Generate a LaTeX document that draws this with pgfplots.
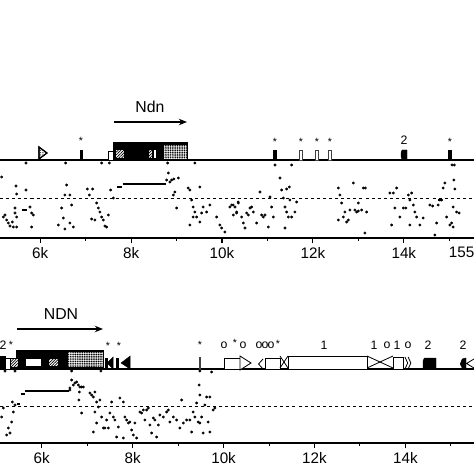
\documentclass[border=0pt]{standalone}
\usepackage{fontspec}
\setmainfont{Liberation Sans}
\usepackage{pgfplots}
\pgfplotsset{compat=1.18}
\usetikzlibrary{patterns,patterns.meta,arrows.meta}

\newcommand{\gbox}[5][]{\addplot[#1] coordinates {(#2,#3) (#4,#3) (#4,#5) (#2,#5)} -- cycle;}

\pgfplotsset{
  panel/.style={scale only axis, width=14.22cm,
    axis x line=bottom, axis y line=none,
    axis line style={-, line width=1.1pt},
    xtick={6000,8000,10000,12000,14000},
    xticklabels={6k,8k,10k,12k,14k},
    minor xtick={7000,9000,11000,13000,15000},
    tick align=outside, major tick length=0.16cm, minor tick length=0.08cm,
    every tick/.style={black, line width=0.9pt},
    scaled x ticks=false,
    xticklabel style={font=\fontsize{13}{13}\selectfont},
    clip=false},
}
\tikzset{
  dots/.style={only marks, mark=*, mark size=1pt, black},
  seg/.style={black, line width=1.4pt},
  gl/.style={font=\fontsize{10.5}{11}\selectfont, inner sep=0pt},
  ast/.style={font=\fontsize{9}{9}\selectfont, inner sep=0pt},
  hat/.style={draw=black, line width=0.4pt, fill=white, postaction={pattern={Lines[angle=45,distance=1.7pt,line width=0.6pt]}}},
  stip/.style={draw=black, line width=0.4pt, fill=white, postaction={pattern={Dots[distance=1.5pt,radius=0.6pt]}}},
}

\begin{document}
\begin{tikzpicture}
\path[use as bounding box] (0,0) rectangle (14.22cm,14.22cm);

%================ TOP PANEL (mouse Ndn) =================
\begin{axis}[panel, at={(0,7.08cm)}, anchor=south west, height=4.44cm,
  xmin=5116, xmax=15544, ymin=-40, ymax=108,
  extra x ticks={15270}, extra x tick labels={155},
  extra x tick style={every tick/.style={draw=none}}]
% baseline and reference line
\addplot[black, line width=1.1pt] coordinates {(5116,38) (15544,38)};
\addplot[black, line width=0.8pt, dash pattern=on 2.6pt off 2.6pt] coordinates {(5116,0) (15544,0)};
% gene label and arrow
\node[font=\fontsize{13.5}{14}\selectfont] at (axis cs:8416,91) {Ndn};
\addplot[black, line width=0.9pt, -{Stealth[length=7pt,width=5.5pt]}] coordinates {(7624,76) (9230,76)};
% open triangle
\addplot[draw=black, line width=0.9pt, fill=white, postaction={pattern={Dots[distance=1.5pt,radius=0.4pt]}}] coordinates {(5974,39) (6150,45) (5974,51)} -- cycle;
% small bar + asterisk
\gbox[fill=black, draw=black] {6880}{38}{6915}{48}
\node[ast] at (axis cs:6898,57) {*};
% Ndn gene body
\gbox[fill=white, draw=black, line width=0.6pt] {7492}{38}{7602}{47}
\gbox[fill=black, draw=black] {7602}{38}{9230}{56}
\gbox[hat] {7646}{40}{7844}{49}
\gbox[hat] {8372}{40}{8460}{49}
\gbox[fill=white, draw=black, line width=0.4pt] {8482}{40}{8548}{49}
\gbox[stip] {8702}{39}{9230}{54}
% exon bars with asterisks
\gbox[fill=black, draw=black] {11136}{38}{11196}{48}
\gbox[fill=white, draw=black!75, line width=0.7pt] {11708}{38}{11768}{48}
\gbox[fill=white, draw=black!75, line width=0.7pt] {12060}{38}{12120}{48}
\gbox[fill=white, draw=black!75, line width=0.7pt] {12346}{38}{12406}{48}
\gbox[fill=black, draw=black] {14986}{38}{15046}{48}
\node[ast] at (axis cs:11166,56) {*};
\node[ast] at (axis cs:11738,56) {*};
\node[ast] at (axis cs:12090,56) {*};
\node[ast] at (axis cs:12376,56) {*};
\node[ast] at (axis cs:15016,56) {*};
% repeat element "2"
\addplot[fill=black, draw=black] coordinates {(13965,38) (13942,41) (13938,45) (13962,48) (14070,48) (14070,38)} -- cycle;
\node[gl] at (axis cs:14004,58) {2};
% GC-content points
\addplot[dots] coordinates {
(5688,35) (6560,35) (7352,35) (7520,35) (8803,35) (9404,35) (11166,33) (11532,33) (15060,33) (15110,33)
(5153,21) (5468,12) (5688,8) (5483,4) (5226,-17) (5189,-19) (5263,-22) (5299,-25) (5336,-28)
(5409,-29) (5483,-29) (5446,-10) (5446,-15) (5483,-19) (5387,-24) (5776,-9) (5812,-15) (5849,-17)
(5812,-29) (6582,13) (6545,3) (6655,3) (6692,-7) (6472,-10) (6509,-20) (6399,-27) (6655,-25)
(6729,-29) (6545,-31) (7036,9) (7154,9) (7080,3) (7242,-5) (7278,-10) (7315,-14) (7352,-19)
(7388,-22) (7205,-22) (7132,-21) (7462,-29) (7425,-28) (7498,-17) (7550,8) (7608,0)
(8781,18) (8818,25) (8854,16) (8891,18) (8942,19) (9038,20) (8964,6) (8928,3) (9001,-10)
(9257,10) (9294,8) (9331,-2) (9367,-9) (9404,-14) (9441,-19) (9367,-19) (9294,-27) (9514,-24)
(9551,-15) (9514,11) (9587,-9) (9661,-14) (9734,-7) (9881,-19) (9954,-27) (9991,-30) (10064,-34)
(10174,-9) (10247,-7) (10320,-15) (10357,-4)
(10213,-7) (10286,-9) (10359,-5) (10249,-17) (10323,-14) (10433,-19) (10469,-25) (10506,-30)
(10543,-15) (10579,-17) (10616,-10) (10652,-9) (10689,-14) (10762,-25) (10836,6) (10872,-17)
(10909,-19) (10946,-17) (11019,-29) (11056,1) (11092,-9) (11129,-19) (11276,20) (11312,8)
(11349,0) (11386,-9) (11422,9) (11481,11) (11495,-2) (11459,-19) (11422,-14) (11386,-30)
(11532,-19) (11605,-14) (11642,-4)
(12558,10) (12595,3) (12632,-5) (12558,-22) (12668,-19) (12705,-14) (12742,-24) (12778,-22)
(12815,-12) (12888,15) (12925,-12) (12961,-14) (12998,-13) (13071,-12) (13108,10) (13152,10)
(13145,-35) (13181,-14) (12998,-5)
(13694,5) (13768,5) (13731,-27) (13804,-10) (13841,10) (13914,-19) (13988,-10) (14046,-10)
(14098,3) (14134,-2) (14171,5) (14134,-27) (14208,-7) (14244,-14) (14281,-19) (14354,-27)
(14427,-20) (14574,-7) (14633,-8) (14684,-37) (14721,-25) (14757,-7) (14794,-2) (14831,-2)
(14867,10) (14904,15) (14941,-19) (15014,-27) (15050,-25) (15087,-29) (15087,-9) (15102,18)
(15124,9) (15160,-14) (15219,-15)
};
\addplot[seg] coordinates {(5592,-12) (5703,-12)};
\addplot[seg] coordinates {(7682,11) (7792,11)};
\addplot[seg] coordinates {(7813,14) (8759,14)};
\addplot[seg] coordinates {(14754,-2) (14840,-2)};
\end{axis}

%================ BOTTOM PANEL (human NDN) =================
\begin{axis}[panel, at={(0,0.93cm)}, anchor=south west, height=4.59cm,
  xmin=5081, xmax=15509, ymin=-37, ymax=116]
\addplot[black, line width=1.1pt] coordinates {(5081,37) (15509,37)};
\addplot[black, line width=0.8pt, dash pattern=on 2.6pt off 2.6pt] coordinates {(5081,0) (15509,0)};
% gene label and arrow
\node[font=\fontsize{13.5}{14}\selectfont] at (axis cs:6423,92) {NDN};
\addplot[black, line width=0.9pt, -{Stealth[length=7pt,width=5.5pt]}] coordinates {(5455,77) (7347,77)};
% left elements
\gbox[fill=black, draw=black] {5081}{37}{5191}{50}
\node[gl] at (axis cs:5147,61) {2};
\node[ast] at (axis cs:5323,61) {*};
\gbox[fill=white, draw=black, line width=0.5pt] {5191}{37}{5301}{48}
% NDN gene body
\gbox[fill=black, draw=black] {5433}{37}{7347}{56}
\gbox[hat] {5301}{39}{5477}{48}
\gbox[fill=white, draw=black, line width=0.4pt] {5631}{40}{5983}{48}
\gbox[hat] {6137}{40}{6357}{48}
\gbox[stip] {6555}{39}{7347}{55}
% black left-pointing elements
\gbox[fill=black, draw=black] {7400}{37}{7430}{48}
\addplot[fill=black, draw=black] coordinates {(7440,43) (7570,49) (7570,37)} -- cycle;
\gbox[fill=black, draw=black] {7645}{37}{7675}{48}
\addplot[fill=black, draw=black] coordinates {(7745,43) (7945,50) (7945,37)} -- cycle;
\node[ast] at (axis cs:7457,60) {*};
\node[ast] at (axis cs:7699,60) {*};
% single bar
\gbox[fill=white, draw=black!75, line width=0.7pt] {9460}{37}{9500}{49}
\node[ast] at (axis cs:9481,61) {*};
% open elements
\node[gl] at (axis cs:10009,61) {o};
\node[ast] at (axis cs:10251,63) {*};
\node[gl] at (axis cs:10427,61) {o};
\gbox[fill=white, draw=black, line width=0.7pt] {10009}{37}{10361}{48}
\addplot[fill=white, draw=black, line width=0.7pt] coordinates {(10361,36) (10603,43) (10361,50)} -- cycle;
\node[gl] at (axis cs:10779,61) {o};
\node[gl] at (axis cs:10911,61) {o};
\node[gl] at (axis cs:11043,61) {o};
\node[ast] at (axis cs:11197,62) {*};
\addplot[draw=black, line width=0.7pt] coordinates {(10867,47) (10770,42) (10867,37)};
\gbox[fill=white, draw=black, line width=0.7pt] {10911}{37}{11241}{48}
\addplot[draw=black, line width=0.7pt] coordinates {(11241,50) (11417,38)};
\addplot[draw=black, line width=0.7pt] coordinates {(11241,38) (11417,50)};
\gbox[fill=white, draw=black, line width=0.7pt] {11417}{37}{13155}{50}
\addplot[draw=black, line width=0.7pt] coordinates {(13155,50) (13727,38)};
\addplot[draw=black, line width=0.7pt] coordinates {(13155,38) (13727,50)};
\gbox[fill=white, draw=black, line width=0.7pt] {13727}{37}{13960}{49}
\addplot[draw=black, line width=0.7pt] coordinates {(13990,37) (14050,43) (13990,49)};
\addplot[draw=black, line width=0.7pt] coordinates {(14060,37) (14120,43) (14060,49)};
\node[gl] at (axis cs:12209,61) {1};
\node[gl] at (axis cs:13309,61) {1};
\node[gl] at (axis cs:13595,61) {o};
\node[gl] at (axis cs:13815,61) {1};
\node[gl] at (axis cs:14057,61) {o};
% black repeat elements
\addplot[fill=black, draw=black] coordinates {(14387,37) (14387,45) (14420,48) (14673,48) (14673,37)} -- cycle;
\node[gl] at (axis cs:14497,61) {2};
\addplot[fill=black, draw=black] coordinates {(15333,37) (15250,38) (15205,42) (15250,47) (15333,48)} -- cycle;
\addplot[draw=black, line width=0.7pt] coordinates {(15509,47) (15345,42.5) (15509,38)};
\node[gl] at (axis cs:15267,61) {2};
% GC-content points
\addplot[dots] coordinates {
(5191,35) (5411,35) (6657,35) (7302,35) (9479,35) (9735,34)
(5118,-11) (5154,-2) (5301,-27) (5264,-22) (5338,-16) (5374,-6) (5352,4) (5411,1) (5228,-29)
(6620,18) (6657,26) (6620,16) (6694,21) (6730,23) (6767,24) (6804,21) (6840,19) (6877,19)
(6914,19) (6826,14) (6818,6) (6877,-7) (7060,13) (7097,11) (7133,9) (7170,14) (7207,4)
(7243,-1) (7280,6) (7170,-6) (7207,-17) (7133,-26) (7317,-11) (7353,-22) (7390,-22) (7427,-14)
(7463,-22) (7500,-7) (7537,4) (7573,-11) (7610,-14) (7647,-31) (7683,-21) (7720,8) (7793,4)
(7793,-32) (7830,-11) (7867,-14) (7903,-17) (7940,-16) (7977,-24) (8013,-29) (8050,-17)
(8087,-32) (8160,-6) (8196,-7) (8233,-4) (8270,-14) (8306,-4) (8343,-2) (8380,-19) (8416,-27)
(8453,-12) (8490,-14) (8526,-31) (8563,-19) (8599,-9) (8673,-11) (8746,-6) (8783,-4) (8819,-16)
(8893,-11) (8966,-14) (9039,-22) (9076,6) (9113,-17) (9186,-14) (9259,-14) (9296,-26) (9332,-6)
(9369,-11) (9406,3) (9442,-16) (9464,21) (9479,11) (9479,-17) (9516,-11) (9552,-27) (9589,1)
(9626,9) (9662,-16) (9699,9) (9699,-26) (9772,-4) (9809,-2)
};
\addplot[seg] coordinates {(5447,2) (5521,2)};
\addplot[seg] coordinates {(5535,12) (5631,12)};
\addplot[seg] coordinates {(5631,15) (6606,15)};
\end{axis}
\end{tikzpicture}
\end{document}
